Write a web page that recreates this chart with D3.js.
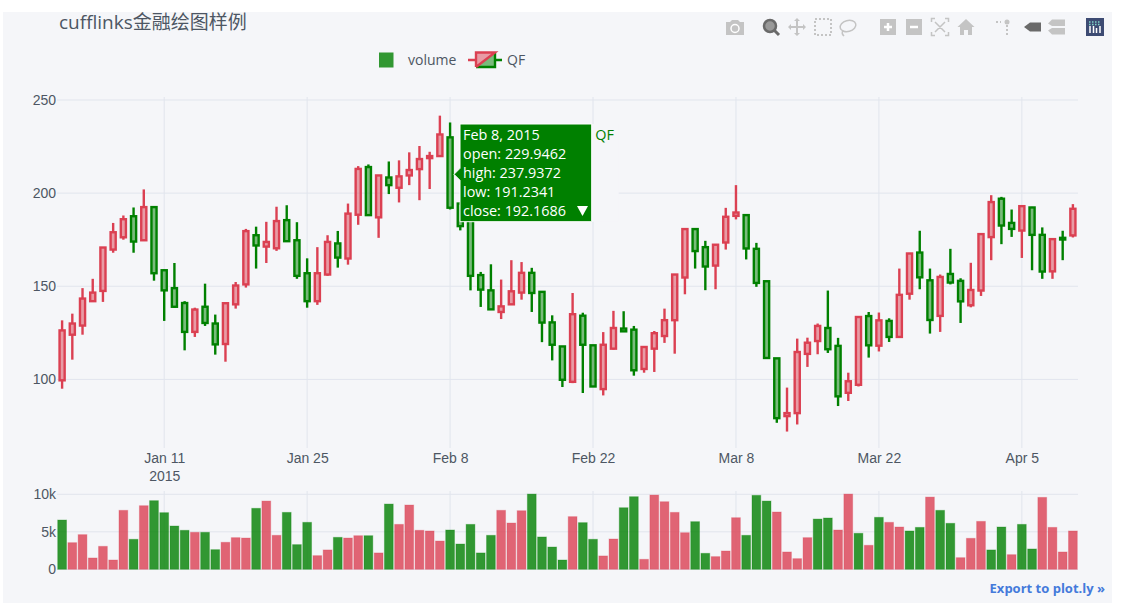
<!DOCTYPE html>
<meta charset="utf-8">
<style>
  html, body { margin: 0; padding: 0; background: #fff; }
  svg { display: block; font-family: "Open Sans", "Noto Sans CJK SC", sans-serif; }
  .tick text { fill: #4D5663; font-size: 14px; }
  .domain { display: none; }
</style>
<svg width="1121" height="611"></svg>
<script src="https://d3js.org/d3.v7.min.js"></script>
<script>

// values, one entry per day from Jan 1 2015
var dates = d3.utcDay.range(Date.UTC(2015, 0, 1), Date.UTC(2015, 3, 11));

var open = [99.5,124,128.9,142,147.5,169.7,176.3,187.6,174.7,192.5,158.6,149,141,125.5,139,130,119,140.3,151,177.4,
  171.3,170.4,185.5,174.7,157,142,156.3,173,164.9,188.4,214,187,208.4,202.9,209.5,212.9,218.8,219.9,229.9462,194.4,
  186,156,147.8,136.2,140.3,146.6,157.2,147,130.6,117.7,98.7,134.2,118.3,94.8,116.5,127.3,126.7,105.6,116.5,123.3,
  131.8,154.7,180.7,171,161.1,173.5,187.8,188.2,170.1,152.7,111.3,80.3,81.9,113.7,120.6,127.6,118,92.8,97.1,134,
  118.1,131.4,122.8,146,168.1,153.2,134.1,156.6,152.9,139.8,147.7,176.4,197,184,179.9,192.3,177.6,158,176,177.3];
var high = [131.7,135.3,149,154,171,184,188,192.3,202,192.5,159,162.5,142,138.5,151.4,134.8,141,152.3,180.8,182,
  184.6,192.7,193.5,184.4,165,171,177.4,179.7,194.4,214.5,215.4,209.7,217,217.6,221.9,225.3,222.2,241.6,237.9372,195,
  187,157.7,161.8,153.6,164,163,159.9,147,134.4,117.7,146.4,135.8,118.3,125.4,136.8,136.6,128.7,117.8,126,138,
  156.5,180.9,181,174.4,172.6,192.1,204.3,188.6,173.3,153,111.3,95.6,121.9,122.4,130,147.7,122.3,103.6,133.5,136.2,
  135.9,132.8,159.5,167.9,179.8,159.5,156.3,170.1,154.3,162.6,178.1,198.9,198,191.2,193.2,192.6,181.6,175.6,179.8,194.1];
var low = [95,110.6,124,142,141.6,168,175,168,174.7,153,131.4,138.5,115.6,122.8,128.7,113.3,109.5,138,149.3,159.5,
  162.5,169,174.2,154,138.5,140,155.6,160,161.6,183,188.2,176,199.5,195,204.3,196.2,202.2,219.9,191.2341,180,
  147.8,138.9,137.6,132.4,140.3,142.8,136.2,120,110.2,95.9,98,92.7,96,91.4,116,125.8,102,103.6,104,119.6,
  113.8,145.7,159.5,147.9,148.4,169.7,185.9,164.4,149.7,111.5,76.7,72,75.8,106.7,113.5,114.2,85.7,88.4,96.2,111.7,
  115,120.1,122.5,142.8,148.4,124.6,125.5,151,130.3,138.7,144.8,164,172.6,176.5,165.2,158.6,154,154,164,176.2];
var close = [126.3,130,143.4,146.6,170.8,179,186,174,192.5,157,147.8,139,125.5,137.5,130.3,118.8,140.9,150.4,179.6,171.9,
  173.8,185,174.2,155.6,142,157,173.8,165.4,189,213,188.2,209.5,204.3,209,212.4,218.3,219.9,231.5,192.1686,182.3,
  155.6,148.2,137.6,139.2,147.3,157.2,146.4,130.5,118.6,99.8,135,118.6,96.2,118.6,127.6,125.8,104.9,117.4,124.8,131.8,
  156.3,180.7,168.9,160.6,172.3,187.3,189.6,170.3,151.8,111.5,79.2,81.9,114.7,119.7,128.7,116.2,90.9,99,133.5,118.3,
  131.7,122.8,145.4,167.6,154.8,131.9,155,152,141.9,148,178,195.2,182.6,180.8,193,177.6,157.9,175.3,175.1,191.6];
var volume = [6570,3550,4620,1510,3060,1240,7860,4000,8480,9150,7550,5770,5200,4930,4930,2620,3600,4220,4170,8130,
  9100,4530,7590,3290,6260,1820,2580,4260,4170,4480,4480,2180,8700,5990,8570,5200,5110,3770,5240,3370,
  5990,2180,4530,7860,6170,7810,10030,4310,2970,1240,7020,6220,4000,1780,4040,8210,9680,1330,9900,9010,
  7590,4880,6350,2130,1690,2440,6880,4530,9860,9100,7640,2310,1420,4220,6700,6840,5240,10030,4800,3200,
  6930,6260,5640,5110,5590,9630,7860,6130,1550,4130,6390,2580,5640,1950,5990,2710,9590,5590,2310,5110];
var volumeSide = "GRRRRRRGRGGGGRGGRRRGRRGGGRRGRRGRGRRRRRGGGGGRRRGGGGRGGRRGGRRRRRGGRRRGGGRRRRGGRRGRGRRGGRGGRRRGGRGGRRRR".split("");

var priceTicks = [100, 150, 200, 250];
var volumeTicks = [0, 5000, 10000];
var dateTicks = [new Date(Date.UTC(2015, 0, 11)), new Date(Date.UTC(2015, 0, 25)), new Date(Date.UTC(2015, 1, 8)),
  new Date(Date.UTC(2015, 1, 22)), new Date(Date.UTC(2015, 2, 8)), new Date(Date.UTC(2015, 2, 22)), new Date(Date.UTC(2015, 3, 5))];
var dateLabels = ["Jan 11", "Jan 25", "Feb 8", "Feb 22", "Mar 8", "Mar 22", "Apr 5"];
var hoverIndex = 38;

var upColor = "#DB4052", downColor = "#008000", ink = "#4D5663", grid = "#E1E5ED", paper = "#F5F6F9";

var left = 57, right = 1078,
    priceTop = 97, priceBottom = 448,
    volumeTop = 491, volumeBottom = 569.3;

var halfDay = 12 * 3600 * 1000;
var x = d3.scaleUtc()
    .domain([+dates[0] - halfDay, +dates[dates.length - 1] + halfDay])
    .range([left, right]);
var y = d3.scaleLinear().domain([100, 250]).range([379.4, 100]);
var v = d3.scaleLinear().domain([0, 10000]).range([volumeBottom, 494.3]);
var dayWidth = (right - left) / dates.length;

var svg = d3.select("svg");

svg.append("rect").attr("x", 3).attr("y", 12).attr("width", 1109).attr("height", 591).attr("fill", paper);

// grid
var gridLayer = svg.append("g").attr("stroke", grid).attr("fill", "none");
gridLayer.selectAll(".px").data(dateTicks).enter().append("line")
    .attr("x1", x).attr("x2", x).attr("y1", priceTop).attr("y2", priceBottom);
gridLayer.selectAll(".vx").data(dateTicks).enter().append("line")
    .attr("x1", x).attr("x2", x).attr("y1", volumeTop).attr("y2", volumeBottom);
gridLayer.selectAll(".py").data(priceTicks).enter().append("line")
    .attr("x1", left).attr("x2", right).attr("y1", y).attr("y2", y);
gridLayer.selectAll(".vy").data(volumeTicks).enter().append("line")
    .attr("x1", left).attr("x2", right).attr("y1", v).attr("y2", v);

// axes
var xAxis = svg.append("g")
    .attr("transform", "translate(0," + priceBottom + ")")
    .call(d3.axisBottom(x).tickValues(dateTicks).tickSize(0).tickPadding(5)
      .tickFormat(function(d, i) { return dateLabels[i]; }));
xAxis.select(".tick text").clone()
    .attr("y", 23).text("2015");

svg.append("g")
    .attr("transform", "translate(56,0)")
    .call(d3.axisLeft(y).tickValues(priceTicks).tickSize(0).tickPadding(0));
svg.append("g")
    .attr("transform", "translate(56,0)")
    .call(d3.axisLeft(v).tickValues(volumeTicks).tickSize(0).tickPadding(0).tickFormat(d3.format("~s")));

// volume bars
svg.append("g").selectAll("rect")
    .data(volume)
    .enter().append("rect")
      .attr("x", function(d, i) { return x(dates[i]) - dayWidth * 0.43; })
      .attr("width", dayWidth * 0.86)
      .attr("y", function(d) { return v(d); })
      .attr("height", function(d) { return v(0) - v(d); })
      .attr("fill", function(d, i) { return volumeSide[i] == "G" ? downColor : upColor; })
      .attr("fill-opacity", 0.8)
      .attr("stroke", function(d, i) { return volumeSide[i] == "G" ? downColor : upColor; })
      .attr("stroke-opacity", 0.3);

// candles
var candle = svg.append("g").selectAll("g")
    .data(dates)
    .enter().append("g")
      .attr("stroke", function(d, i) { return close[i] >= open[i] ? upColor : downColor; })
      .attr("stroke-width", 2.4);

candle.append("line")
    .attr("x1", x).attr("x2", x)
    .attr("y1", function(d, i) { return y(high[i]); })
    .attr("y2", function(d, i) { return y(Math.max(open[i], close[i])); });
candle.append("line")
    .attr("x1", x).attr("x2", x)
    .attr("y1", function(d, i) { return y(Math.min(open[i], close[i])); })
    .attr("y2", function(d, i) { return y(low[i]); });
candle.append("rect")
    .attr("x", function(d) { return x(d) - dayWidth / 4; })
    .attr("width", dayWidth / 2)
    .attr("y", function(d, i) { return y(Math.max(open[i], close[i])); })
    .attr("height", function(d, i) { return Math.abs(y(open[i]) - y(close[i])); })
    .attr("fill", function(d, i) { return close[i] >= open[i] ? upColor : downColor; })
    .attr("fill-opacity", 0.5);

// title and legend
svg.append("text").attr("x", 59).attr("y", 29)
    .attr("fill", ink).style("font-size", "19px").text("cufflinks金融绘图样例");

svg.append("rect").attr("x", 379).attr("y", 52.5).attr("width", 14.5).attr("height", 15)
    .attr("fill", downColor).attr("fill-opacity", 0.8);
svg.append("text").attr("x", 408).attr("y", 64.5).attr("fill", ink).style("font-size", "14px").text("volume");

var legendCandle = svg.append("g").attr("stroke-width", 2.4);
legendCandle.append("path").attr("d", "M476,52.5H495L476,67Z").attr("fill", upColor).attr("fill-opacity", 0.5);
legendCandle.append("path").attr("d", "M495,52.5V67H476Z").attr("fill", downColor).attr("fill-opacity", 0.5);
legendCandle.append("path").attr("d", "M495,52.5V67H476M495,60H502").attr("fill", "none").attr("stroke", downColor);
legendCandle.append("path").attr("d", "M476,67V52.5H495L476,67M468,60H476").attr("fill", "none").attr("stroke", upColor);
svg.append("text").attr("x", 507).attr("y", 60).attr("dy", "0.35em").attr("fill", ink).style("font-size", "14px").text("QF");

// hover label
var tipX = 460, tipY = 124, tipW = 131.7, tipH = 97.7;
var tipLines = [d3.utcFormat("%b %-d, %Y")(dates[hoverIndex]),
  "open: " + open[hoverIndex].toFixed(4),
  "high: " + high[hoverIndex].toFixed(4),
  "low: " + low[hoverIndex].toFixed(4),
  "close: " + close[hoverIndex].toFixed(4)];
var tip = svg.append("g");
tip.append("rect").attr("x", tipX + tipW).attr("y", tipY).attr("width", 27).attr("height", tipH).attr("fill", paper);
tip.append("path")
    .attr("d", "M" + tipX + "," + tipY + "h" + tipW + "v" + tipH + "h" + (-tipW) + "v" + (-(tipH / 2 - 7.5)) + "l-6,-6l6,-6Z")
    .attr("fill", downColor).attr("stroke", "#fff");
tip.selectAll("text").data(tipLines).enter().append("text")
    .attr("x", tipX + 3).attr("y", function(d, i) { return tipY + 15.5 + i * 19; })
    .attr("fill", "#fff").style("font-size", "14.4px").text(function(d) { return d; });
tip.append("path").attr("d", "M577,206h11l-5.5,10Z").attr("fill", "#fff");
tip.append("text").attr("x", tipX + tipW + 3.5).attr("y", tipY + 15.5)
    .attr("fill", downColor).style("font-size", "14.4px").text("QF");

svg.append("text").attr("x", 1105).attr("y", 593).attr("text-anchor", "end")
    .attr("fill", "#447ADB").style("font-size", "13px").style("font-weight", 700).text("Export to plot.ly »");

// modebar icons
var idle = "#C4C4C4", active = "#6A6A6A";
function icon(cx, cy) {
  return svg.append("g").attr("transform", "translate(" + cx + "," + cy + ")");
}
var cam = icon(735, 28);
cam.append("path").attr("d", "M-9,-6H-5L-3,-8H3L5,-6H9V7H-9Z").attr("fill", idle);
cam.append("circle").attr("r", 4).attr("cy", 0.5).attr("fill", "none").attr("stroke", "#fff").attr("stroke-width", 1.5);

var lens = icon(770, 26);
lens.append("circle").attr("r", 6).attr("fill", "#999").attr("stroke", active).attr("stroke-width", 2.5);
lens.append("path").attr("d", "M4.5,4.5L9,9").attr("stroke", active).attr("stroke-width", 3);

icon(797, 27).append("path")
    .attr("d", "M-9,0L-6,-3V-1H-1V-6H-3L0,-9L3,-6H1V-1H6V-3L9,0L6,3V1H1V6H3L0,9L-3,6H-1V1H-6V3Z")
    .attr("fill", idle);

icon(823, 27).append("rect").attr("x", -8).attr("y", -8).attr("width", 16).attr("height", 16)
    .attr("fill", "none").attr("stroke", idle).attr("stroke-width", 2).attr("stroke-dasharray", "2,2");

var lasso = icon(848, 26);
lasso.append("ellipse").attr("rx", 8).attr("ry", 5.5).attr("transform", "rotate(-15)")
    .attr("fill", "none").attr("stroke", idle).attr("stroke-width", 1.5);
lasso.append("path").attr("d", "M-5,4C-7,8 -5,9 -4,10").attr("fill", "none").attr("stroke", idle).attr("stroke-width", 1.5);

var plus = icon(888, 27);
plus.append("rect").attr("x", -8).attr("y", -8).attr("width", 16).attr("height", 16).attr("fill", idle);
plus.append("path").attr("d", "M-4,0H4M0,-4V4").attr("stroke", "#fff").attr("stroke-width", 2.5);
var minus = icon(914, 27);
minus.append("rect").attr("x", -8).attr("y", -8).attr("width", 16).attr("height", 16).attr("fill", idle);
minus.append("path").attr("d", "M-4,0H4").attr("stroke", "#fff").attr("stroke-width", 2.5);

icon(940, 27).append("path")
    .attr("d", "M-5,-8.5H-8.5V-5M5,-8.5H8.5V-5M-5,8.5H-8.5V5M5,8.5H8.5V5M-5,-5L5,5M5,-5L-5,5")
    .attr("fill", "none").attr("stroke", idle).attr("stroke-width", 1.5);

icon(966, 27).append("path")
    .attr("d", "M-8.5,0L0,-8L8.5,0H6V8H2V3H-2V8H-6V0Z").attr("fill", idle);

icon(1003, 27).append("path")
    .attr("d", "M-7,-5H-2M3,-5H3M4,-2V8")
    .attr("fill", "none").attr("stroke", idle).attr("stroke-width", 2).attr("stroke-dasharray", "2,2");
icon(1007, 22).append("circle").attr("r", 2.5).attr("fill", idle);

icon(1033, 27).append("path").attr("d", "M-9,0L-3,-4.5H8V4.5H-3Z").attr("fill", active);

var compare = icon(1057, 27);
compare.append("path").attr("d", "M-9,-3.5L-5,-7.5H8V-1H-5Z").attr("fill", idle);
compare.append("path").attr("d", "M-9,3.5L-5,1H8V7.5H-5Z").attr("fill", idle);

var logo = icon(1095, 27);
logo.append("rect").attr("x", -9).attr("y", -9).attr("width", 18).attr("height", 18).attr("fill", "#3D4B73");
logo.append("path").attr("d", "M-5,-1V6M-1.5,-1V6M1.5,1V6M5,-1V6").attr("stroke", "#fff").attr("stroke-width", 1.5);
logo.append("path").attr("d", "M-6,-5H6M-6,-2.5H6").attr("stroke", "#7FD1C7").attr("stroke-width", 1.5).attr("stroke-dasharray", "1.5,1.5");

</script>
